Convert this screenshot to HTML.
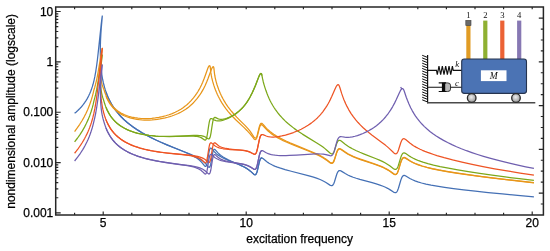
<!DOCTYPE html>
<html><head><meta charset="utf-8"><title>plot</title>
<style>html,body{margin:0;padding:0;background:#fff}body{width:550px;height:251px;position:relative;overflow:hidden}</style></head>
<body>
<svg width="550" height="251" viewBox="0 0 550 251" style="position:absolute;left:0;top:0">
<rect width="550" height="251" fill="#fff"/>
<g fill="none" stroke-width="1.25" stroke-linejoin="round" stroke-linecap="butt">
<path stroke="#4470B5" d="M74.60,113.35 76.25,111.97 77.83,110.54 79.33,109.07 80.77,107.54 82.13,105.97 83.42,104.35 84.64,102.68 85.86,100.85 86.94,99.08 88.02,97.14 88.95,95.29 89.88,93.25 90.74,91.17 91.53,89.05 92.25,86.92 92.97,84.54 94.04,80.37 94.91,76.20 95.83,71.02 96.74,64.87 97.42,59.58 98.12,53.42 101.18,24.50 101.92,18.32 102.17,16.58 102.29,16.00 102.23,17.19 101.32,27.48 100.86,33.94 100.50,41.05 100.33,47.80 100.33,54.48 100.53,60.80 100.93,66.76 101.53,72.38 101.91,75.10 102.34,77.74 102.76,80.00 103.30,82.47 103.92,85.03 104.59,87.50 105.32,89.90 106.09,92.21 106.89,94.40 107.75,96.52 108.66,98.59 109.63,100.61 110.66,102.57 111.75,104.51 112.89,106.36 114.09,108.19 116.29,111.20 118.70,114.14 121.32,116.99 124.15,119.76 127.20,122.44 130.49,125.07 134.00,127.63 137.79,130.15 141.97,132.71 146.46,135.24 151.28,137.75 156.45,140.25 161.38,142.50 166.80,144.84 182.56,151.29 186.70,153.04 190.56,154.78 193.68,156.34 195.45,157.34 197.01,158.32 198.39,159.30 199.66,160.33 200.62,161.20 201.51,162.11 202.53,163.29 204.41,165.65 204.87,166.12 205.26,166.37 205.47,166.43 205.69,166.41 205.86,166.33 206.04,166.16 206.39,165.57 206.71,164.68 207.03,163.45 207.39,161.69 208.70,153.64 209.30,150.65 209.65,149.43 210.01,148.64 210.36,148.21 210.57,148.10 210.79,148.08 211.21,148.25 211.71,148.67 214.26,151.67 215.11,152.56 215.99,153.40 217.83,154.89 219.92,156.27 222.55,157.73 225.70,159.23 229.20,160.73 239.19,164.78 242.06,166.06 244.47,167.26 246.70,168.53 248.65,169.83 250.63,171.40 253.68,174.16 254.35,174.62 254.88,174.80 255.34,174.76 255.77,174.48 256.19,173.91 256.58,173.10 256.97,172.00 257.40,170.49 259.06,163.14 259.45,161.63 259.84,160.36 260.30,159.22 260.76,158.48 261.01,158.22 261.26,158.06 261.51,157.97 261.79,157.96 262.32,158.11 262.99,158.51 266.54,161.48 267.78,162.39 269.05,163.23 270.43,164.03 271.92,164.80 273.55,165.56 275.32,166.30 277.41,167.09 279.71,167.89 285.10,169.54 291.22,171.23 308.08,175.61 312.69,176.93 316.51,178.17 320.13,179.53 321.72,180.22 323.21,180.94 324.62,181.69 325.97,182.49 329.94,185.11 330.68,185.49 331.32,185.67 331.92,185.66 332.45,185.42 332.95,184.96 333.44,184.22 333.94,183.20 334.47,181.79 336.45,175.25 336.95,173.82 337.41,172.71 337.94,171.74 338.51,171.05 338.79,170.83 339.11,170.67 339.43,170.59 339.78,170.58 340.46,170.73 341.31,171.11 345.24,173.57 347.79,174.96 350.30,176.11 353.14,177.22 356.22,178.26 359.83,179.36 372.12,182.71 376.26,183.90 379.95,185.08 383.10,186.25 385.47,187.27 387.60,188.33 389.83,189.64 393.51,192.08 394.36,192.52 395.04,192.70 395.36,192.72 395.67,192.67 395.99,192.55 396.28,192.38 396.81,191.84 397.34,191.01 397.87,189.85 398.44,188.28 400.63,180.75 401.16,179.15 401.66,177.91 402.26,176.75 402.86,175.99 403.18,175.74 403.50,175.57 403.86,175.46 404.21,175.44 404.95,175.58 405.84,175.98 409.88,178.43 412.46,179.79 415.01,180.89 417.81,181.89 421.57,183.00 425.96,184.07 431.06,185.12 436.97,186.16 444.62,187.35 453.51,188.57 463.75,189.85 475.30,191.18 488.23,192.56 502.36,193.98 517.62,195.43 533.92,196.90"/>
<path stroke="#4470B5" d="M106.00,91.89 106.95,94.49 107.98,97.00 109.10,99.47 110.27,101.79 111.54,104.10 112.89,106.32 114.34,108.50 115.90,110.65 117.53,112.71 119.26,114.74 121.10,116.73 123.05,118.68 125.11,120.59 127.27,122.46 129.53,124.29 131.94,126.12 134.32,127.80 136.83,129.49 139.42,131.13 142.14,132.76 145.01,134.39 147.99,135.99 151.10,137.60 154.36,139.19 160.42,141.99 167.15,144.88 173.63,147.52 186.20,152.49 190.63,154.31 194.46,156.01 197.54,157.55 199.20,158.48 200.73,159.44 202.07,160.38 203.31,161.38 204.37,162.34 205.40,163.41 208.13,166.67 208.52,167.03 208.87,167.25 209.09,167.30 209.30,167.28 209.51,167.16 209.69,166.99 210.04,166.37 210.36,165.47 210.68,164.24 211.03,162.51 212.31,154.85 212.88,152.06 213.19,150.91 213.55,150.02 213.90,149.50 214.08,149.37 214.29,149.29 214.50,149.30 214.75,149.38 215.32,149.82 217.98,152.86 219.68,154.52 221.31,155.83 223.11,157.06 225.45,158.41 228.25,159.82 231.33,161.21 240.22,165.04 242.80,166.26 245.00,167.41 247.06,168.64 248.86,169.89 250.70,171.38 253.64,174.07 254.32,174.54 254.85,174.74 255.13,174.75 255.38,174.69 255.63,174.55 255.87,174.32 256.34,173.61 256.80,172.49 257.19,171.24 257.57,169.73 259.27,162.23 259.70,160.72 260.12,159.54 260.55,158.69 260.97,158.16 261.19,158.00 261.44,157.90 261.68,157.86 261.97,157.89"/>
<path stroke="#E8961A" d="M74.60,131.51 77.25,127.94 79.77,124.28 81.99,120.73 84.07,117.08 85.93,113.45 87.66,109.71 89.23,105.84 90.67,101.83 91.53,99.13 92.39,96.14 93.18,93.07 93.90,89.96 94.77,87.19 95.53,84.46 96.63,79.85 97.38,76.18 98.16,71.93 101.31,53.08 101.97,49.63 102.28,48.40 102.24,49.10 101.57,53.94 101.17,57.32 100.86,60.44 100.63,63.43 100.48,66.54 100.43,69.52 100.47,72.37 100.62,75.08 100.84,77.51 101.15,79.83 101.54,82.04 102.02,84.13 102.44,85.62 102.91,87.06 103.47,88.56 104.10,90.00 104.81,92.20 105.57,94.29 106.44,96.40 107.37,98.39 108.38,100.27 109.45,102.05 110.58,103.71 111.82,105.32 113.13,106.82 114.52,108.22 115.97,109.53 117.53,110.76 119.16,111.89 120.89,112.95 122.70,113.92 124.58,114.78 126.56,115.57 128.61,116.27 131.55,117.08 134.67,117.73 137.89,118.20 141.22,118.50 144.69,118.63 148.20,118.58 151.74,118.36 155.32,117.96 158.86,117.39 162.33,116.66 165.73,115.77 169.03,114.73 172.18,113.56 175.22,112.23 178.13,110.76 180.86,109.17 183.09,107.69 185.21,106.11 187.23,104.43 189.14,102.64 190.84,100.86 193.46,97.87 195.16,95.70 196.76,93.41 197.98,91.48 199.17,89.42 200.34,87.22 201.44,84.95 202.69,82.15 203.95,79.01 205.10,75.91 207.22,69.92 208.03,67.85 208.48,66.88 208.92,66.16 209.30,65.78 209.48,65.69 209.65,65.68 209.84,65.78 210.01,66.02 210.23,66.83 210.90,72.89 211.26,75.18 211.69,77.42 212.66,81.40 213.86,85.42 214.66,87.74 215.50,89.99 216.42,92.24 217.37,94.40 218.37,96.48 219.43,98.54 220.56,100.59 221.73,102.56 223.71,105.62 225.84,108.58 228.18,111.54 230.73,114.49 233.10,117.04 235.72,119.69 244.12,127.67 246.91,130.44 248.47,132.10 249.89,133.71 253.71,138.48 254.42,139.18 254.99,139.52 255.24,139.58 255.45,139.57 255.66,139.50 255.87,139.37 256.26,138.91 256.65,138.17 257.04,137.14 257.43,135.84 259.03,129.28 259.42,127.86 259.77,126.78 260.20,125.79 260.62,125.13 260.83,124.92 261.08,124.76 261.33,124.69 261.58,124.70 261.86,124.78 262.14,124.93 262.82,125.47 266.82,129.81 268.31,131.23 269.90,132.59 271.64,133.91 273.51,135.21 275.60,136.53 277.87,137.84 280.42,139.20 283.18,140.58 286.23,142.00 289.59,143.49 296.32,146.29 311.45,152.28 315.06,153.81 318.11,155.21 321.05,156.70 323.63,158.20 326.11,159.86 329.90,162.74 330.68,163.20 331.35,163.45 331.96,163.48 332.49,163.27 332.98,162.84 333.48,162.12 333.97,161.12 334.47,159.84 336.45,153.47 336.91,152.18 337.37,151.09 337.91,150.14 338.47,149.48 338.76,149.28 339.04,149.15 339.36,149.08 339.68,149.07 340.39,149.26 341.27,149.72 345.31,152.56 347.93,154.18 350.51,155.54 353.45,156.87 356.64,158.16 360.43,159.54 372.94,163.72 376.97,165.13 380.52,166.48 383.53,167.78 385.72,168.85 387.71,169.96 389.87,171.34 393.51,173.94 394.36,174.41 395.04,174.63 395.36,174.66 395.67,174.63 395.99,174.52 396.28,174.36 396.81,173.85 397.34,173.04 397.87,171.90 398.44,170.36 400.63,162.93 401.13,161.45 401.62,160.21 402.23,159.06 402.83,158.31 403.15,158.05 403.47,157.89 403.82,157.79 404.18,157.78 404.92,157.94 405.80,158.36 409.95,161.05 411.26,161.82 412.60,162.54 415.30,163.79 418.27,164.95 422.27,166.24 426.95,167.51 432.37,168.78 438.67,170.06 446.75,171.53 456.03,173.05 466.48,174.61 478.02,176.20 490.63,177.83 504.20,179.47 518.65,181.12 533.92,182.77"/>
<path stroke="#E8961A" d="M106.00,96.29 106.86,98.25 107.78,100.11 108.76,101.88 109.81,103.55 110.94,105.17 112.11,106.65 113.35,108.05 114.66,109.37 116.04,110.61 117.53,111.80 119.05,112.88 120.68,113.90 122.38,114.85 124.19,115.72 126.03,116.50 127.98,117.22 130.07,117.88 132.26,118.45 134.53,118.94 136.87,119.34 139.27,119.66 141.72,119.88 144.23,120.02 146.82,120.07 149.44,120.02 152.06,119.89 154.72,119.66 157.34,119.35 159.96,118.96 162.58,118.47 165.17,117.90 167.68,117.25 169.77,116.64 171.79,115.99 173.77,115.28 175.69,114.52 177.56,113.71 179.37,112.86 181.14,111.95 182.84,111.00 184.47,110.02 186.06,108.97 187.59,107.88 189.07,106.74 190.49,105.55 191.87,104.30 193.18,103.01 194.42,101.69 197.26,98.38 199.27,95.73 200.33,94.19 201.32,92.66 203.20,89.41 205.03,85.76 206.78,81.77 208.15,78.30 210.75,71.12 211.68,68.76 212.13,67.83 212.57,67.15 212.95,66.80 213.13,66.72 213.30,66.73 213.48,66.83 213.63,67.04 213.85,67.82 214.49,73.61 214.82,75.73 215.22,77.83 216.05,81.34 217.12,84.99 218.57,89.15 220.23,93.22 221.15,95.21 222.10,97.14 223.09,99.01 224.16,100.90 225.82,103.60 227.63,106.28 229.56,108.89 231.67,111.52 234.04,114.26 236.70,117.13 239.34,119.84 245.21,125.68 247.75,128.36 249.00,129.85 250.22,131.47 253.82,136.84 254.49,137.61 254.78,137.85 255.08,138.00 255.49,138.04 255.70,137.97 255.91,137.82 256.30,137.36 256.65,136.69 257.04,135.67 257.43,134.38 259.03,127.85 259.42,126.44 259.77,125.36 260.20,124.38 260.62,123.72 260.83,123.52 261.08,123.36 261.33,123.30 261.58,123.31 261.86,123.40 262.14,123.55 262.82,124.11 263.56,124.90 265.72,127.38 266.85,128.59 268.38,130.08 269.97,131.47 271.74,132.85 273.69,134.23 275.82,135.59 278.12,136.95 280.70,138.37 283.50,139.79 286.58,141.27 289.98,142.81 296.75,145.68 311.70,151.74 315.27,153.29 318.25,154.68 321.15,156.18 323.67,157.66 326.11,159.32 329.90,162.21 330.68,162.68 331.35,162.94 331.96,162.96 332.49,162.76 332.98,162.33 333.48,161.62 333.97,160.61 334.47,159.34 336.45,152.98 336.91,151.68 337.37,150.60 337.91,149.65 338.47,148.99 338.76,148.79 339.04,148.66 339.36,148.59 339.68,148.59 340.39,148.77 341.27,149.24 345.31,152.10 347.96,153.74 350.55,155.11 353.49,156.46 356.68,157.75 360.47,159.15 372.97,163.36 377.01,164.78 380.55,166.15 383.53,167.44 385.72,168.52 387.71,169.63 389.87,171.02 393.51,173.62 394.36,174.10 395.04,174.32 395.36,174.35 395.67,174.32 395.99,174.22 396.28,174.05 396.81,173.54 397.34,172.73 397.87,171.60 398.44,170.06 400.63,162.63 401.13,161.15 401.62,159.91 402.23,158.76 402.83,158.01 403.15,157.75 403.47,157.59 403.82,157.49 404.18,157.48 404.92,157.65 405.80,158.07 409.95,160.77 411.29,161.56 412.64,162.28 415.33,163.53 418.31,164.69 422.35,166.00 427.02,167.27 432.48,168.55 438.74,169.84 446.86,171.32 456.14,172.85 466.58,174.42 478.13,176.02 490.74,177.66 504.27,179.31 518.69,180.96 533.92,182.62"/>
<path stroke="#7CA81A" d="M74.60,141.90 77.40,138.25 79.98,134.57 82.35,130.85 84.50,127.10 86.44,123.32 88.23,119.37 89.81,115.40 91.24,111.23 92.25,107.89 93.11,104.64 94.18,99.94 94.84,97.60 95.52,94.89 96.60,89.88 97.33,85.92 98.09,81.35 101.24,60.61 101.95,56.50 102.18,55.37 102.29,55.00 102.25,55.74 101.55,61.20 101.12,65.07 100.80,68.69 100.57,72.16 100.42,75.75 100.38,79.18 100.46,82.45 100.64,85.55 100.89,88.25 101.24,90.83 101.68,93.28 102.21,95.61 102.77,97.64 103.57,100.00 104.71,103.83 105.53,106.16 106.41,108.37 107.45,110.66 108.58,112.83 109.81,114.88 111.12,116.82 112.53,118.66 114.02,120.36 115.65,122.01 117.35,123.53 119.16,124.95 121.10,126.31 123.16,127.57 125.35,128.76 127.66,129.85 130.10,130.86 132.65,131.78 135.34,132.63 137.86,133.31 140.44,133.92 143.17,134.48 145.97,134.96 148.91,135.39 151.92,135.74 155.04,136.04 158.29,136.27 163.64,136.50 169.35,136.58 176.00,136.49 189.78,136.07 193.11,136.10 195.77,136.27 197.01,136.44 198.14,136.65 199.17,136.92 200.12,137.24 201.05,137.65 201.93,138.13 204.55,139.92 205.05,140.10 205.26,140.10 205.47,140.04 205.83,139.76 206.18,139.18 206.50,138.34 206.82,137.15 207.42,134.00 208.63,125.85 209.16,122.74 209.48,121.28 209.76,120.28 210.08,119.46 210.43,118.88 210.68,118.65 210.93,118.53 211.21,118.50 211.49,118.54 212.10,118.80 213.87,119.82 214.75,120.22 215.96,120.60 217.23,120.81 218.58,120.86 219.99,120.77 221.55,120.52 223.22,120.12 225.24,119.48 227.33,118.66 229.45,117.68 231.54,116.56 233.60,115.31 235.61,113.93 237.56,112.44 239.40,110.88 240.79,109.58 242.10,108.25 243.37,106.85 244.58,105.42 245.74,103.90 246.88,102.31 247.94,100.69 248.97,98.98 250.07,96.99 252.06,93.11 253.85,89.32 255.46,85.47 258.36,77.88 259.36,75.53 259.84,74.60 260.26,73.97 260.68,73.60 261.03,73.52 261.23,73.58 261.42,73.77 261.58,74.08 261.74,74.56 262.62,78.98 263.19,81.48 264.02,84.58 265.02,87.86 265.93,90.59 266.93,93.30 267.92,95.78 268.98,98.22 270.15,100.68 271.35,103.00 272.63,105.25 274.01,107.50 275.43,109.62 276.95,111.72 278.54,113.76 280.24,115.78 281.73,117.42 283.25,119.02 284.85,120.59 286.55,122.18 288.32,123.75 290.16,125.30 294.09,128.37 298.02,131.18 302.42,134.10 306.81,136.85 316.41,142.68 320.76,145.50 322.99,147.09 324.98,148.63 326.54,149.94 329.97,152.98 330.68,153.48 331.25,153.78 331.57,153.87 331.88,153.91 332.17,153.88 332.45,153.78 332.98,153.38 333.48,152.73 333.97,151.78 334.47,150.55 336.45,144.40 336.91,143.15 337.34,142.18 337.87,141.27 338.40,140.67 338.68,140.48 338.97,140.35 339.25,140.30 339.57,140.31 339.92,140.39 340.31,140.54 341.20,141.08 345.20,144.26 347.68,146.02 349.91,147.41 352.39,148.78 355.83,150.47 359.87,152.26 364.29,154.07 376.16,158.73 379.49,160.14 382.29,161.43 384.94,162.79 387.32,164.17 389.72,165.79 393.55,168.67 394.40,169.17 395.07,169.41 395.39,169.45 395.71,169.42 396.03,169.32 396.31,169.16 396.84,168.65 397.37,167.84 397.91,166.71 398.44,165.27 400.63,157.92 401.13,156.46 401.62,155.24 402.19,154.17 402.79,153.41 403.11,153.16 403.43,153.00 403.79,152.91 404.14,152.90 404.88,153.08 405.77,153.53 409.98,156.40 411.37,157.26 412.75,158.04 415.54,159.41 418.70,160.71 420.72,161.44 422.91,162.17 427.84,163.61 433.54,165.06 440.09,166.53 448.41,168.20 457.80,169.91 468.28,171.66 479.72,173.42 492.05,175.19 505.23,176.97 519.18,178.73 533.92,180.49"/>
<path stroke="#7CA81A" d="M106.00,107.31 107.02,109.68 108.12,111.91 109.31,114.03 110.58,116.01 111.97,117.90 113.42,119.65 115.01,121.35 116.68,122.91 118.45,124.37 120.36,125.77 122.38,127.07 124.54,128.30 126.81,129.42 129.18,130.46 131.69,131.41 134.32,132.28 137.04,133.06 139.88,133.75 142.85,134.37 145.93,134.90 149.16,135.36 152.49,135.74 155.96,136.04 159.57,136.26 165.66,136.45 172.14,136.43 179.40,136.19 193.75,135.43 197.08,135.39 199.70,135.51 200.87,135.65 201.97,135.83 202.99,136.08 203.91,136.38 204.76,136.73 205.61,137.17 208.06,138.72 208.52,138.89 208.87,138.90 209.09,138.82 209.30,138.68 209.69,138.15 210.04,137.32 210.40,136.10 211.03,132.86 212.27,124.65 212.80,121.62 213.12,120.20 213.41,119.21 213.73,118.40 214.08,117.82 214.33,117.58 214.58,117.45 214.86,117.40 215.18,117.43 215.71,117.62 217.30,118.43 218.26,118.83 219.36,119.14 220.53,119.30 221.66,119.32 222.86,119.23 224.14,119.02 225.52,118.68 227.22,118.14 228.96,117.44 230.73,116.61 232.53,115.64 234.30,114.55 236.04,113.37 237.74,112.08 239.37,110.71 240.79,109.41 242.17,108.02 243.48,106.58 244.75,105.06 245.96,103.49 247.09,101.88 248.19,100.19 249.25,98.39 250.17,96.70 252.10,92.95 253.81,89.35 255.63,85.00 258.74,76.90 259.44,75.31 259.99,74.29 260.34,73.83 260.64,73.56 260.93,73.45 261.23,73.51 261.45,73.73 261.63,74.10 261.99,75.58"/>
<path stroke="#EE5424" d="M74.60,153.24 76.25,151.17 77.83,149.09 79.33,146.99 80.77,144.89 82.13,142.76 83.42,140.62 84.64,138.47 85.79,136.30 86.87,134.13 87.87,131.94 88.80,129.75 89.74,127.39 90.60,125.01 91.39,122.63 92.10,120.27 92.82,117.68 93.90,113.21 94.91,108.18 95.83,102.84 96.71,96.90 97.40,91.49 98.13,85.25 101.21,56.59 101.93,50.62 102.17,48.96 102.29,48.40 102.25,49.46 101.56,57.03 101.14,62.40 100.82,67.38 100.58,72.16 100.43,77.11 100.38,81.87 100.43,86.41 100.58,90.74 100.84,94.93 101.20,98.92 101.68,102.71 102.25,106.31 102.93,109.65 103.69,112.77 104.64,115.97 105.68,118.97 106.81,121.73 108.05,124.33 109.42,126.81 110.87,129.08 112.46,131.26 114.20,133.32 116.07,135.26 118.06,137.06 120.22,138.78 122.52,140.38 125.00,141.89 127.62,143.29 130.42,144.60 133.39,145.83 136.58,146.97 139.95,148.03 143.91,149.11 148.16,150.10 152.70,151.00 157.59,151.82 162.26,152.50 167.40,153.14 182.42,154.71 186.52,155.19 190.42,155.74 193.57,156.35 195.34,156.80 196.94,157.30 198.35,157.87 199.63,158.50 200.73,159.17 201.79,159.95 204.55,162.48 204.94,162.72 205.30,162.83 205.51,162.81 205.69,162.73 206.04,162.37 206.39,161.66 206.71,160.68 207.03,159.34 207.39,157.48 208.70,149.01 209.30,145.83 209.65,144.50 210.01,143.59 210.40,143.02 210.61,142.86 210.82,142.78 211.25,142.84 211.74,143.12 214.29,145.31 215.18,145.95 216.06,146.49 217.02,146.99 218.05,147.43 219.18,147.83 220.38,148.18 221.73,148.49 223.18,148.76 226.55,149.20 230.23,149.51 239.90,150.10 242.56,150.36 244.79,150.68 246.81,151.11 248.61,151.64 249.61,152.02 250.60,152.46 253.68,154.07 254.39,154.27 254.67,154.28 254.95,154.22 255.41,153.96 255.84,153.47 256.26,152.69 256.65,151.67 257.04,150.36 257.43,148.78 259.03,141.08 259.77,138.06 260.20,136.77 260.62,135.81 261.05,135.16 261.54,134.73 261.83,134.61 262.14,134.55 262.50,134.56 262.89,134.64 263.56,134.88 266.25,136.03 267.28,136.37 268.34,136.63 270.22,136.93 272.31,137.06 273.69,137.05 275.14,136.97 278.33,136.61 281.80,135.98 285.45,135.12 289.49,133.93 293.49,132.54 297.42,130.95 301.18,129.20 304.72,127.32 308.08,125.29 311.23,123.12 314.17,120.81 315.80,119.40 317.36,117.93 318.85,116.42 320.27,114.87 321.54,113.36 322.78,111.78 325.71,107.64 326.88,105.81 327.98,103.95 329.09,101.95 330.16,99.86 331.74,96.51 334.94,89.15 336.10,86.74 336.67,85.79 337.19,85.13 337.66,84.77 337.91,84.68 338.13,84.67 338.46,84.78 338.76,85.05 339.07,85.52 339.35,86.14 339.84,87.53 341.64,93.39 343.04,97.37 343.94,99.69 344.85,101.87 345.80,103.99 346.83,106.12 348.81,109.83 350.94,113.32 353.24,116.66 355.76,119.89 358.06,122.55 360.50,125.13 363.16,127.70 366.03,130.26 368.76,132.54 371.80,134.94 381.86,142.41 385.33,145.11 387.17,146.64 388.87,148.14 393.48,152.56 394.26,153.20 394.93,153.60 395.28,153.74 395.64,153.80 395.96,153.78 396.24,153.69 396.52,153.53 396.81,153.28 397.37,152.53 397.91,151.50 398.47,150.06 400.60,143.30 401.09,141.91 401.59,140.76 402.16,139.76 402.72,139.11 403.01,138.91 403.33,138.77 403.64,138.71 404.00,138.72 404.35,138.81 404.74,138.98 405.66,139.56 410.13,143.25 411.61,144.36 413.17,145.43 414.73,146.41 416.39,147.37 418.17,148.31 420.08,149.25 422.42,150.30 424.93,151.36 427.62,152.41 430.53,153.46 433.64,154.52 436.94,155.58 444.13,157.70 452.63,159.96 461.98,162.21 472.11,164.43 482.98,166.63 494.64,168.80 507.00,170.93 520.10,173.03 533.92,175.09"/>
<path stroke="#EE5424" d="M106.00,119.72 106.94,121.97 107.96,124.10 109.06,126.15 110.23,128.07 111.47,129.89 112.82,131.66 114.23,133.31 115.76,134.91 117.39,136.44 119.09,137.86 120.89,139.23 122.80,140.52 124.82,141.75 126.98,142.93 129.22,144.02 131.59,145.06 133.96,146.00 136.48,146.89 139.10,147.73 141.82,148.51 144.69,149.25 147.70,149.94 150.86,150.59 154.15,151.19 160.31,152.15 167.15,153.00 173.74,153.68 186.38,154.83 190.74,155.30 194.49,155.82 197.54,156.40 199.24,156.83 200.73,157.30 202.07,157.83 203.31,158.43 204.37,159.07 205.40,159.81 208.13,162.22 208.52,162.46 208.87,162.56 209.09,162.55 209.30,162.46 209.51,162.28 209.69,162.05 210.04,161.32 210.36,160.32 210.68,158.99 211.03,157.14 212.31,149.08 212.88,146.10 213.19,144.85 213.55,143.85 213.90,143.22 214.26,142.90 214.47,142.83 214.72,142.83 215.00,142.91 215.32,143.08 218.05,145.32 218.93,145.93 219.85,146.48 221.59,147.27 223.54,147.92 226.02,148.49 228.96,148.94 232.18,149.28 240.79,150.00 243.23,150.30 245.28,150.65 247.20,151.10 248.90,151.65 250.70,152.43 253.61,153.98 254.28,154.20 254.81,154.20 255.10,154.11 255.38,153.94 255.63,153.70 255.87,153.37 256.34,152.48 256.80,151.18 257.19,149.77 257.57,148.11 259.27,139.92 259.74,138.11 260.16,136.78 260.59,135.79 261.01,135.12 261.47,134.68 261.97,134.47"/>
<path stroke="#6F5FAF" d="M74.60,161.01 77.61,157.19 80.41,153.27 82.92,149.35 84.07,147.39 85.22,145.31 87.23,141.29 88.16,139.23 89.09,137.00 89.95,134.78 90.74,132.57 92.18,128.02 93.18,124.29 94.85,117.30 95.78,112.75 96.69,107.48 97.44,102.48 98.22,96.69 101.36,71.06 101.99,66.52 102.29,64.90 102.24,65.95 101.36,74.93 100.93,80.46 100.60,86.52 100.45,92.24 100.48,97.86 100.71,103.11 101.14,108.01 101.42,110.34 101.76,112.58 102.13,114.68 102.55,116.71 103.02,118.66 103.54,120.55 104.53,123.82 105.21,125.85 106.02,128.05 106.90,130.15 107.72,131.92 108.60,133.63 109.52,135.25 110.51,136.84 111.58,138.39 112.67,139.85 113.84,141.26 115.05,142.60 117.17,144.69 119.47,146.66 121.95,148.50 124.61,150.21 127.48,151.82 130.56,153.34 133.86,154.74 137.36,156.05 141.40,157.36 145.76,158.58 150.47,159.72 155.53,160.78 160.38,161.67 165.73,162.53 181.60,164.78 185.92,165.44 190.03,166.18 193.32,166.94 195.17,167.48 196.80,168.06 198.28,168.71 199.59,169.41 200.59,170.06 201.51,170.76 202.53,171.68 204.41,173.54 204.87,173.89 205.23,174.04 205.44,174.06 205.65,174.00 205.86,173.85 206.04,173.64 206.39,172.95 206.71,171.98 207.03,170.66 207.39,168.82 208.70,160.42 209.30,157.28 209.65,155.97 210.01,155.08 210.36,154.56 210.57,154.39 210.79,154.32 211.21,154.38 211.71,154.67 214.26,157.01 215.11,157.68 215.99,158.29 216.88,158.81 217.83,159.30 218.86,159.74 219.96,160.15 221.23,160.56 222.62,160.93 225.80,161.61 229.38,162.20 239.33,163.63 242.17,164.15 244.58,164.71 246.84,165.41 248.83,166.22 250.70,167.22 253.61,169.08 254.21,169.35 254.71,169.44 254.99,169.41 255.24,169.32 255.70,168.95 256.12,168.32 256.55,167.37 256.97,166.07 257.40,164.44 259.06,156.63 259.45,155.01 259.84,153.64 260.30,152.37 260.76,151.50 261.26,150.95 261.54,150.78 261.83,150.69 262.36,150.71 262.96,150.90 263.67,151.27 265.69,152.45 266.78,153.02 268.20,153.63 269.69,154.14 271.35,154.58 273.19,154.94 275.21,155.22 277.48,155.42 280.03,155.55 282.86,155.61 285.98,155.59 289.42,155.49 296.50,155.13 311.66,154.12 315.17,153.97 318.07,153.92 320.83,154.00 323.24,154.21 324.59,154.40 325.90,154.66 329.97,155.70 330.86,155.76 331.25,155.70 331.60,155.58 332.17,155.23 332.66,154.69 333.12,153.97 333.58,153.01 334.04,151.79 334.54,150.21 336.42,143.17 337.27,140.46 337.76,139.23 338.26,138.29 338.76,137.62 339.32,137.11 339.68,136.91 340.03,136.78 340.46,136.70 340.92,136.67 341.87,136.75 344.67,137.17 346.16,137.30 348.14,137.31 350.23,137.14 352.50,136.79 354.91,136.25 357.42,135.54 360.04,134.64 362.95,133.49 365.82,132.18 368.61,130.74 371.34,129.16 373.96,127.46 376.44,125.67 378.78,123.78 381.01,121.79 383.45,119.32 385.72,116.73 388.41,113.27 390.54,110.17 392.58,106.82 394.57,103.12 396.30,99.52 399.28,92.92 400.27,90.93 400.88,89.93 401.43,89.22 401.95,88.80 402.20,88.69 402.45,88.65 402.82,88.73 403.19,89.02 403.54,89.50 403.89,90.21 404.44,91.68 406.26,97.19 407.42,100.32 408.97,104.08 410.66,107.68 412.18,110.58 413.81,113.38 415.54,116.06 417.39,118.64 419.58,121.40 421.92,124.04 424.43,126.59 427.09,129.03 429.92,131.40 432.97,133.71 436.23,135.96 439.67,138.14 443.53,140.38 447.60,142.54 451.92,144.65 456.52,146.73 461.38,148.74 466.48,150.71 471.86,152.63 477.53,154.52 483.48,156.36 489.75,158.18 496.34,159.97 503.21,161.71 510.40,163.43 517.91,165.11 525.73,166.77 533.92,168.40"/>
<path stroke="#6F5FAF" d="M106.00,127.93 106.93,130.16 107.93,132.28 108.99,134.28 110.16,136.24 111.40,138.10 112.71,139.85 114.09,141.50 115.58,143.11 117.17,144.65 118.84,146.10 120.61,147.49 122.49,148.82 124.47,150.08 126.56,151.29 128.75,152.43 131.06,153.52 133.36,154.50 135.80,155.45 138.35,156.35 141.05,157.21 143.84,158.02 146.78,158.79 149.86,159.53 153.12,160.23 159.18,161.38 165.91,162.46 172.43,163.37 185.25,165.02 189.85,165.68 193.89,166.39 197.15,167.13 198.92,167.64 200.51,168.21 201.93,168.82 203.21,169.49 204.30,170.20 205.33,170.98 208.13,173.60 208.52,173.86 208.87,173.98 209.09,173.98 209.30,173.90 209.51,173.73 209.69,173.51 210.04,172.80 210.36,171.82 210.68,170.51 211.03,168.68 212.31,160.70 212.88,157.75 213.19,156.52 213.55,155.54 213.90,154.93 214.08,154.75 214.29,154.62 214.50,154.57 214.75,154.59 215.32,154.88 217.98,157.23 218.83,157.88 219.71,158.47 221.34,159.36 223.18,160.12 225.52,160.86 228.35,161.54 231.47,162.13 240.33,163.61 242.88,164.15 245.07,164.72 247.06,165.38 248.86,166.14 250.70,167.14 253.64,169.04 254.32,169.32 254.85,169.38 255.13,169.32 255.38,169.19 255.63,168.98 255.87,168.68 256.34,167.84 256.80,166.60 257.19,165.24 257.57,163.63 259.27,155.66 259.70,154.04 260.12,152.73 260.55,151.77 260.97,151.13 261.44,150.73 261.68,150.63 261.97,150.58"/>
<path stroke="#6F5FAF" d="M402.0,89.2L400.6,87.2"/>
</g>
<g stroke="#262626" fill="none">
<rect x="55.7" y="7.0" width="487.7" height="208.0" stroke-width="1.5"/>
<path stroke-width="1.15" d="M74.60,215.0v-2.2M74.60,7.0v2.2M103.20,215.0v-3.6M103.20,7.0v2.2M131.80,215.0v-2.2M131.80,7.0v2.2M160.40,215.0v-2.2M160.40,7.0v2.2M189.00,215.0v-2.2M189.00,7.0v2.2M217.60,215.0v-2.2M217.60,7.0v2.2M246.20,215.0v-3.6M246.20,7.0v2.2M274.80,215.0v-2.2M274.80,7.0v2.2M303.40,215.0v-2.2M303.40,7.0v2.2M332.00,215.0v-2.2M332.00,7.0v2.2M360.60,215.0v-2.2M360.60,7.0v2.2M389.20,215.0v-3.6M389.20,7.0v2.2M417.80,215.0v-2.2M417.80,7.0v2.2M446.40,215.0v-2.2M446.40,7.0v2.2M475.00,215.0v-2.2M475.00,7.0v2.2M503.60,215.0v-2.2M503.60,7.0v2.2M532.20,215.0v-3.6M532.20,7.0v2.2M55.7,212.90h5.0M55.7,197.74h2.6M55.7,188.88h2.6M55.7,182.59h2.6M55.7,177.71h2.6M55.7,173.72h2.6M55.7,170.35h2.6M55.7,167.43h2.6M55.7,164.85h2.6M55.7,162.55h5.0M55.7,147.39h2.6M55.7,138.53h2.6M55.7,132.24h2.6M55.7,127.36h2.6M55.7,123.37h2.6M55.7,120.00h2.6M55.7,117.08h2.6M55.7,114.50h2.6M55.7,112.20h5.0M55.7,97.04h2.6M55.7,88.18h2.6M55.7,81.89h2.6M55.7,77.01h2.6M55.7,73.02h2.6M55.7,69.65h2.6M55.7,66.73h2.6M55.7,64.15h2.6M55.7,61.85h5.0M55.7,46.69h2.6M55.7,37.83h2.6M55.7,31.54h2.6M55.7,26.66h2.6M55.7,22.67h2.6M55.7,19.30h2.6M55.7,16.38h2.6M55.7,13.80h2.6M55.7,11.50h5.0M543.4,203.98h-2.6M543.4,193.05h-4.6M543.4,182.12h-2.6M543.4,171.18h-2.6M543.4,160.25h-2.6M543.4,149.32h-4.6M543.4,138.38h-2.6M543.4,127.45h-2.6M543.4,116.52h-2.6M543.4,105.58h-4.6M543.4,94.65h-2.6M543.4,83.72h-2.6M543.4,72.78h-2.6M543.4,61.85h-4.6M543.4,50.92h-2.6M543.4,39.98h-2.6M543.4,29.05h-2.6M543.4,18.12h-4.6"/>
</g>
<g font-family="Liberation Sans, Arial, Helvetica, sans-serif" font-size="12" fill="#000" stroke="#000" stroke-width="0.25">
<text x="103.2" y="227.0" text-anchor="middle">5</text>
<text x="246.2" y="227.0" text-anchor="middle">10</text>
<text x="389.2" y="227.0" text-anchor="middle">15</text>
<text x="532.2" y="227.0" text-anchor="middle">20</text>
<text x="53.3" y="15.5" text-anchor="end">10</text>
<text x="53.3" y="65.8" text-anchor="end">1</text>
<text x="53.3" y="116.2" text-anchor="end">0.100</text>
<text x="53.3" y="166.6" text-anchor="end">0.010</text>
<text x="53.3" y="216.9" text-anchor="end">0.001</text>
<text x="299.6" y="242.5" text-anchor="middle" font-size="12">excitation frequency</text>
<text transform="translate(15.2,111.4) rotate(-90)" text-anchor="middle" font-size="12">nondimensional amplitude (logscale)</text>
</g>
<g id="inset">
<path d="M422.2,55.30l5.4,2.15M422.2,57.92l5.4,2.15M422.2,60.54l5.4,2.15M422.2,63.16l5.4,2.15M422.2,65.78l5.4,2.15M422.2,68.40l5.4,2.15M422.2,71.02l5.4,2.15M422.2,73.64l5.4,2.15M422.2,76.26l5.4,2.15M422.2,78.88l5.4,2.15M422.2,81.50l5.4,2.15M422.2,84.12l5.4,2.15M422.2,86.74l5.4,2.15M422.2,89.36l5.4,2.15M422.2,91.98l5.4,2.15M422.2,94.60l5.4,2.15M422.2,97.22l5.4,2.15M422.2,99.84l5.4,2.15" stroke="#000" stroke-width="0.95" fill="none"/>
<path d="M427.6,55.0V103.2" stroke="#111" stroke-width="1.2" fill="none"/>
<path d="M427.0,102.7H535.3" stroke="#4a4a4a" stroke-width="1.5" fill="none"/>
<path d="M427.6,70.4H436.5L437.30,74.70L438.98,66.10L440.66,74.70L442.33,66.10L444.01,74.70L445.69,66.10L447.37,74.70L449.04,66.10L450.72,74.70L452.40,66.10L453.2,70.4H462" stroke="#111" stroke-width="1.15" fill="none" stroke-linejoin="miter"/>
<path d="M427.6,87.2H442.5M450.4,87.2H462" stroke="#111" stroke-width="1.15" fill="none"/>
<path d="M444.5,82.9H447.6Q450.5,82.9 450.5,85.2V89.2Q450.5,91.5 447.6,91.5H444.5Z" stroke="#222" stroke-width="0.9" fill="#b8b8b8"/>
<path d="M438.7,82.9H446M438.7,91.5H446" stroke="#111" stroke-width="1.15" fill="none"/>
<rect x="441.9" y="82.6" width="3.3" height="9.2" fill="#0a0a0a"/>
<rect x="466.3" y="20.6" width="4.2" height="39" fill="#E19C24"/>
<rect x="483.2" y="20.6" width="4.2" height="39" fill="#8FB032"/>
<rect x="500.2" y="20.6" width="4.2" height="39" fill="#EB6235"/>
<rect x="517.1" y="20.6" width="4.2" height="39" fill="#8778B3"/>
<rect x="465.8" y="20.4" width="5.2" height="5.2" fill="#6a6a6a" stroke="#444" stroke-width="0.6"/>
<rect x="461.7" y="59" width="64.8" height="34.4" rx="2.6" fill="#4B73B4" stroke="#26344f" stroke-width="1.1"/>
<rect x="480.9" y="70.3" width="25.6" height="10.8" fill="#fff"/>
<defs><radialGradient id="wg" cx="0.45" cy="0.4" r="0.6"><stop offset="0" stop-color="#eee"/><stop offset="1" stop-color="#999"/></radialGradient></defs>
<circle cx="471.7" cy="98" r="4.3" fill="url(#wg)" stroke="#2a2a2a" stroke-width="1.3"/>
<circle cx="516.0" cy="98" r="4.3" fill="url(#wg)" stroke="#2a2a2a" stroke-width="1.3"/>
<g font-family="Liberation Serif, Times New Roman, serif" fill="#111" text-anchor="middle">
<text x="468.4" y="18.4" font-size="8.6">1</text>
<text x="485.3" y="18.4" font-size="8.6">2</text>
<text x="502.3" y="18.4" font-size="8.6">3</text>
<text x="519.2" y="18.4" font-size="8.6">4</text>
<text x="457.2" y="67.2" font-size="8.8" font-style="italic">k</text>
<text x="457.0" y="86.0" font-size="8.8" font-style="italic">c</text>
<text x="493.7" y="79" font-size="9.5" font-style="italic">M</text>
</g></g>
</svg>
</body></html>
